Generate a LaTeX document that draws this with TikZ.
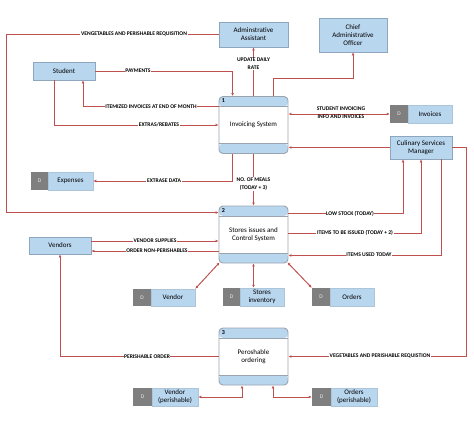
\documentclass[tikz,border=0pt]{standalone}
\usepackage{fontspec}
\setmainfont{Carlito}
\usetikzlibrary{arrows.meta,calc}
\definecolor{boxblue}{HTML}{B9D6EF}
\definecolor{boxline}{HTML}{8EA6BE}
\definecolor{flowred}{HTML}{C0504D}
\definecolor{dgray}{HTML}{7F7F7F}
\definecolor{procline}{HTML}{9AA4AE}
\begin{document}
\begin{tikzpicture}[x=1pt,y=-1pt,
  entity/.style={rectangle,fill=boxblue,draw=boxline,line width=0.8pt,inner sep=1pt,align=center,font=\fontsize{7}{8}\selectfont},
  dpart/.style={rectangle,fill=dgray,inner sep=0pt,text=white!85!gray,font=\fontsize{5.5}{7}\selectfont},
  npart/.style={rectangle,fill=boxblue,draw=boxblue!80!gray,line width=0.5pt,inner sep=0pt,align=center,font=\fontsize{7}{8}\selectfont},
  proc/.style={rectangle,rounded corners=4pt,fill=white,draw=procline,line width=0.9pt,minimum width=69pt,minimum height=57pt,align=center,inner sep=0pt,font=\fontsize{7}{8}\selectfont,
    path picture={
      \fill[boxblue] (path picture bounding box.north west) rectangle ([yshift=-10pt]path picture bounding box.north east);
      \fill[boxblue] (path picture bounding box.south west) rectangle ([yshift=10pt]path picture bounding box.south east);
      \draw[procline,line width=0.6pt] ([yshift=-10pt]path picture bounding box.north west) -- ([yshift=-10pt]path picture bounding box.north east);
      \draw[procline,line width=0.6pt] ([yshift=10pt]path picture bounding box.south west) -- ([yshift=10pt]path picture bounding box.south east);
    }},
  pnum/.style={inner sep=0pt,font=\fontsize{6}{7}\selectfont\bfseries,anchor=west},
  flow/.style={draw=flowred,line width=0.95pt,-{Latex[length=3pt,width=2.8pt]}},
  dflow/.style={draw=flowred,line width=0.95pt,{Latex[length=3pt,width=2.8pt]}-{Latex[length=3pt,width=2.8pt]}},
  lab/.style={fill=white,inner sep=0.6pt,align=center,font=\fontsize{5.6}{8}\selectfont\bfseries},
  labn/.style={inner sep=0.6pt,align=center,font=\fontsize{5.6}{8}\selectfont\bfseries}
]
\useasboundingbox[fill=white] (0,0) rectangle (474,425);

% entities
\node[entity,minimum width=69pt,minimum height=25pt] (aa) at (253.5,34.5) {Adminstrative\\Assistant};
\node[entity,minimum width=68pt,minimum height=34pt] (cao) at (353,35) {Chief\\Administrative\\Officer};
\node[entity,minimum width=62pt,minimum height=18pt] (stu) at (64,71) {Student};
\node[entity,minimum width=62pt,minimum height=23pt] (csm) at (421,147.5) {Culinary Services\\Manager};
\node[entity,minimum width=62pt,minimum height=17pt] (ven) at (60,245.5) {Vendors};

% processes
\node[proc] (p1) at (253.5,125) {Invoicing System};
\node[pnum] at ([xshift=3pt,yshift=-5pt]p1.north west) {1};
\node[proc] (p2) at (253.5,234.5) {Stores issues and\\Control System};
\node[pnum] at ([xshift=3pt,yshift=-5pt]p2.north west) {2};
\node[proc] (p3) at (253.5,356.5) {Peroshable\\ordering};
\node[pnum] at ([xshift=3pt,yshift=-5pt]p3.north west) {3};

% data stores
\node[dpart,minimum width=17pt,minimum height=18pt] (expD) at (39.5,181) {D};
\node[npart,minimum width=45pt,minimum height=18pt] (exp) at (70.5,181) {Expenses};
\node[dpart,minimum width=18pt,minimum height=18pt] (invD) at (399,114) {D};
\node[npart,minimum width=44pt,minimum height=18pt] (inv) at (430,114) {Invoices};
\node[dpart,minimum width=18pt,minimum height=17pt] (vsD) at (142,297.5) {D};
\node[npart,minimum width=44pt,minimum height=17pt] (vs) at (173,297.5) {Vendor};
\node[dpart,minimum width=17pt,minimum height=18pt] (siD) at (231.5,297) {D};
\node[npart,minimum width=44pt,minimum height=18pt] (si) at (262,297) {Stores\\inventory};
\node[dpart,minimum width=18pt,minimum height=18pt] (ordD) at (321,297) {D};
\node[npart,minimum width=44pt,minimum height=18pt] (ord) at (352,297) {Orders};
\node[dpart,minimum width=19pt,minimum height=18pt] (vpD) at (142.5,397) {D};
\node[npart,minimum width=46pt,minimum height=18pt] (vp) at (175,397) {Vendor\\(perishable)};
\node[dpart,minimum width=19pt,minimum height=18pt] (opD) at (321.5,397) {D};
\node[npart,minimum width=46pt,minimum height=18pt] (op) at (354,397) {Orders\\(perishable)};

% flows
\draw[flow] (aa.west) -- ++(-212,0) |- ([yshift=-7pt]p2.north west);
\draw[flow] (stu.east) -| ([xshift=14pt]p1.north west);
\draw[flow] ([yshift=-10pt]p1.north west) -| ([xshift=19pt]stu.south);
\draw[flow] ([xshift=-10pt]stu.south) |- (p1.west);
\draw[flow] ([xshift=-21pt]p1.south) |- (exp.east);
\draw[flow] (p1.north) -- (aa.south);
\draw[flow] ([xshift=-15pt]p1.north east) -- ++(0,-18) -| (cao.south);
\draw[dflow] (invD.west -| p1.east) -- (invD.west);
\draw[flow] (csm.west) -- (csm.west -| p1.east);
\draw[flow] (p1.south) -- (p2.north);
\draw[flow] ([yshift=-8pt]p2.north east) -| ([xshift=-18pt]csm.south);
\draw[flow] ([yshift=1.5pt]p2.east) -| (csm.south);
\draw[flow] ([xshift=20pt]csm.south) |- ([yshift=8pt]p2.south east);
\draw[flow] (csm.east) -- ++(14,0) |- (p3.east);
\draw[flow] ([yshift=4.5pt]ven.east) -- ([yshift=4.5pt]ven.east -| p2.west);
\draw[flow] ([yshift=-5.5pt]ven.east -| p2.west) -- ([yshift=-5.5pt]ven.east);
\draw[dflow] ([xshift=1pt,yshift=1pt]p2.south west) -- (vs.north east);
\draw[dflow] (p2.south) -- (p2.south |- si.north);
\draw[dflow] ([xshift=-1pt,yshift=1pt]p2.south east) -- (ordD.north west);
\draw[flow] (p3.west) -| (ven.south);
\draw[dflow] ([xshift=-11.5pt]p3.south) |- (vp.east);
\draw[dflow] ([xshift=19.5pt]p3.south) |- (opD.west);

% labels
\node[lab] (l1) at (134,34.5) {VENGETABLES AND PERISHABLE REQUISITION};
\node[lab] (l2) at (138,71) {PAYMENTS};
\node[lab] (l3) at (151,107) {ITEMIZED INVOICES AT END OF MONTH};
\node[lab] (l4) at (159,125) {EXTRAS/REBATES};
\node[lab] (l5) at (164,181) {EXTRASE DATA};
\node[lab] (l6) at (253.5,64) {UPDATE DAILY\\RATE};
\node[labn] (l7) at (341,113) {STUDENT INVOICING\\INFO AND INVOICES};
\node[lab] (l8) at (253.5,184) {NO. OF MEALS\\(TODAY + 3)};
\node[lab] (l9) at (350,214) {LOW STOCK (TODAY)};
\node[lab] (l10) at (355,233) {ITEMS TO BE ISSUED (TODAY + 2)};
\node[lab] (l11) at (369,255) {ITEMS USED TODAY};
\node[lab] (l12) at (380,356.5) {VEGETABLES AND PERISHABLE REQUISTION};
\node[lab] (l13) at (155,241) {VENDOR SUPPLIES};
\node[lab] (l14) at (157,251) {ORDER NON-PERISHABLES};
\node[lab] (l15) at (147,356.5) {PERISHABLE ORDER};
\end{tikzpicture}
\end{document}
